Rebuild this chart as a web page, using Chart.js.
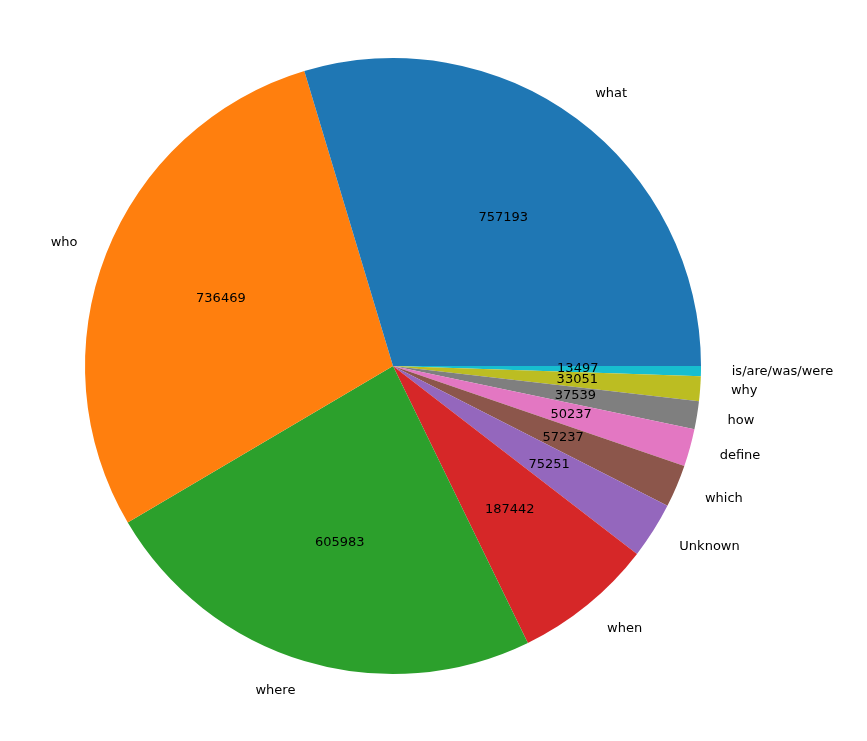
<!DOCTYPE html>
<html><head><meta charset="utf-8">
<script src="https://cdn.jsdelivr.net/npm/chart.js@4"></script>
<style>html,body{margin:0;padding:0;background:#fff}</style>
</head><body>
<canvas id="c" width="867" height="741"></canvas>
<script>
const categories = ["what","who","where","when","Unknown","which","define","how","why","is/are/was/were"];
const counts = [757193,736469,605983,187442,75251,57237,50237,37539,33051,13497];
const colors = ["#1f77b4","#ff7f0e","#2ca02c","#d62728","#9467bd","#8c564b","#e377c2","#7f7f7f","#bcbd22","#17becf"];
// matplotlib draws counter-clockwise from 3 o'clock; Chart.js draws clockwise, so reverse order
const labelsR = categories.slice().reverse();
const countsR = counts.slice().reverse();
const colorsR = colors.slice().reverse();
const labelPlugin = {
  id:'pieLabels',
  afterDatasetsDraw(chart){
    const ctx = chart.ctx;
    const meta = chart.getDatasetMeta(0);
    ctx.save();
    ctx.font = '13px "DejaVu Sans"';
    ctx.fillStyle = '#000';
    meta.data.forEach((arc,i)=>{
      const mid = (arc.startAngle+arc.endAngle)/2;
      const r = arc.outerRadius;
      const cx = Math.cos(mid), cy = Math.sin(mid);
      ctx.textBaseline='middle';
      ctx.textAlign='center';
      ctx.fillText(String(countsR[i]), arc.x+cx*r*0.6, arc.y+cy*r*0.6);
      ctx.textAlign = cx>=0 ? 'left' : 'right';
      ctx.fillText(labelsR[i], arc.x+cx*r*1.1, arc.y+cy*r*1.1);
    });
    ctx.restore();
  }
};
new Chart(document.getElementById('c'),{
  type:'pie',
  data:{labels:labelsR,datasets:[{data:countsR,backgroundColor:colorsR,borderWidth:0}]},
  options:{
    responsive:false,animation:false,rotation:90,
    layout:{padding:{left:85,right:166,top:58,bottom:67}},
    plugins:{legend:{display:false},tooltip:{enabled:false}}
  },
  plugins:[labelPlugin]
});
</script>
</body></html>
